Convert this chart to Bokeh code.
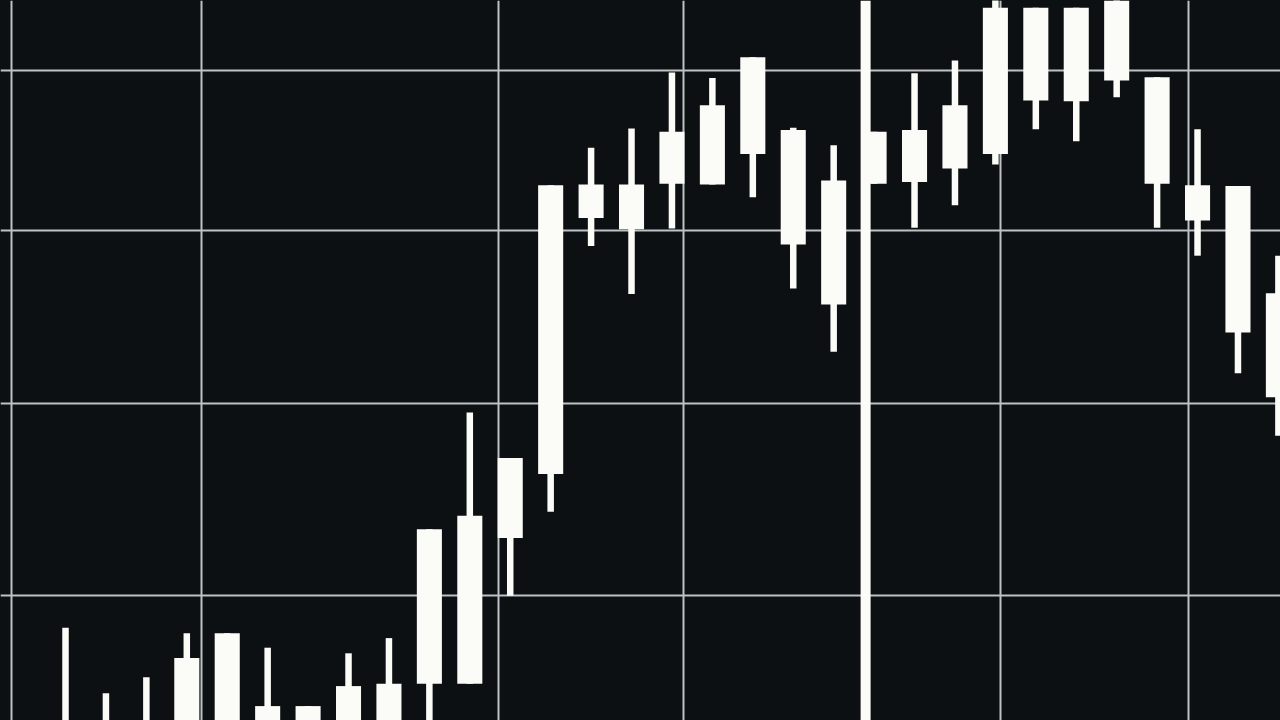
from bokeh.plotting import figure
from bokeh.models import Range1d, FixedTicker, Grid, Span, ColumnDataSource
from bokeh.embed import file_html
from bokeh.resources import INLINE

# ---- data (candle index, price) ----
idx = list(range(31))
high  = [111.6, 103.4, 105.4, 110.9, 110.9, 109.1, 101.8, 108.4, 110.3, 123.9,
         138.5, 132.8, 166.9, 171.6, 174.0, 181.0, 180.3, 182.9, 174.1, 171.9,
         173.6, 180.9, 182.5, 191.9, 189.1, 189.1, 192.5, 180.4, 173.9, 166.8, 158.1]
open_ = [95.0, 94.4, 95.3, 96.3, 96.5, 96.9, 97.5, 96.9, 97.3, 104.6,
         104.6, 122.8, 130.8, 162.8, 161.4, 167.1, 167.0, 170.8, 173.8, 167.5,
         167.1, 167.3, 169.0, 170.8, 177.5, 177.4, 180.0, 180.4, 166.9, 166.8, 153.4]
close = [99.0, 98.5, 99.4, 107.8, 110.9, 101.8, 101.8, 104.3, 104.6, 123.9,
         125.6, 132.8, 166.9, 167.0, 167.0, 173.6, 176.9, 182.9, 159.5, 152.0,
         173.6, 173.8, 176.9, 189.1, 189.1, 189.1, 191.3, 167.1, 162.5, 148.5, 140.4]
low   = [93.8, 92.5, 93.0, 93.8, 95.0, 95.6, 96.3, 95.5, 96.0, 97.5,
         104.6, 115.6, 126.1, 159.3, 153.3, 161.5, 167.0, 165.4, 154.0, 146.1,
         167.1, 161.6, 164.4, 169.5, 173.9, 172.4, 177.9, 161.6, 158.1, 143.4, 135.6]

price_grid = [181.2, 161.3, 139.6, 115.6]
time_grid = [-1.34, 3.36, 10.71, 15.29, 23.13, 27.78]
marker_x = 19.79

BG = "#0d1012"
GRID = "#bcc2c6"
CANDLE = "#fbfbf8"

src = ColumnDataSource(dict(
    x=idx, high=high, low=low,
    top=[max(o, c) for o, c in zip(open_, close)],
    bottom=[min(o, c) for o, c in zip(open_, close)],
))

p = figure(width=1280, height=720, output_backend="svg", toolbar_location=None,
           x_axis_location=None, y_axis_location=None,
           x_range=Range1d(-1.608, 30.052), y_range=Range1d(100.0, 190.0),
           min_border=0, background_fill_color=BG, border_fill_color=BG)
p.outline_line_color = None
for g in p.grid:
    g.visible = False

p.add_layout(Grid(dimension=0, ticker=FixedTicker(ticks=time_grid),
                  grid_line_color=GRID, grid_line_width=2))
p.add_layout(Grid(dimension=1, ticker=FixedTicker(ticks=price_grid),
                  grid_line_color=GRID, grid_line_width=2))

p.add_layout(Span(location=marker_x, dimension="height",
                  line_color=CANDLE, line_width=10))

p.segment(x0="x", y0="low", x1="x", y1="high", source=src,
          line_color=CANDLE, line_width=6.5)
p.vbar(x="x", width=0.62, top="top", bottom="bottom", source=src,
       fill_color=CANDLE, line_color=None)

html = file_html(p, INLINE)
html = html.replace("<head>", "<head><style>html,body{background:%s;}</style>" % BG, 1)
open("out.html", "w").write(html)
